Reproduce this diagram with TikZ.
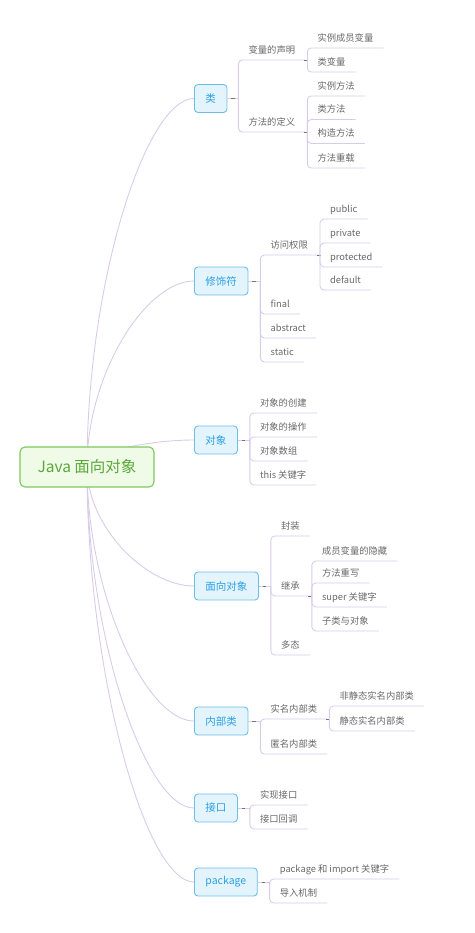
\documentclass[tikz,border=0pt]{standalone}
\usepackage{fontspec}
\setmainfont{Noto Sans CJK SC}
\usepackage{xcolor}
\usepackage{tikz}
\usetikzlibrary{calc, backgrounds}

\definecolor{linkc}{HTML}{D8CCEA}
\definecolor{leaftext}{HTML}{686868}
\definecolor{topfill}{HTML}{E4F4FD}
\definecolor{topdraw}{HTML}{6CBDE9}
\definecolor{toptext}{HTML}{2A9FE3}
\definecolor{rootfill}{HTML}{EFFBE7}
\definecolor{rootdraw}{HTML}{7DC95E}
\definecolor{roottext}{HTML}{5BA83C}

\begin{document}
\begin{tikzpicture}[
  x=1pt, y=-1pt,
  root/.style={
    rectangle, rounded corners=5pt, fill=rootfill, draw=rootdraw,
    line width=1.1pt, minimum width=134pt, minimum height=40pt,
    text=roottext, font=\fontsize{15.5}{18}\selectfont
  },
  topic/.style={
    rectangle, rounded corners=3.5pt, fill=topfill, draw=topdraw,
    line width=0.9pt, minimum height=28pt, inner xsep=11pt, anchor=west,
    text=toptext, font=\fontsize{10.5}{12}\selectfont
  },
  leaf/.style={
    anchor=south west, inner xsep=10pt, inner ysep=4.5pt,
    text height=7pt, text depth=2pt,
    text=leaftext, font=\fontsize{9.3}{11}\selectfont
  },
  link/.style={draw=linkc, line width=0.9pt},
  bracket/.style={link, rounded corners=4pt},
  foldmark/.style={draw=black!55, line width=0.8pt},
  curvy/.style={to path={
    .. controls ($(\tikztostart)!0.5!(\tikztostart |- \tikztotarget)$)
    and ($(\tikztostart |- \tikztotarget)!0.55!(\tikztotarget)$) .. (\tikztotarget)}},
]
\useasboundingbox (0,0) rectangle (474,933);
%% Root and main topics
\node[root] (root) at (87,467) {Java 面向对象};
\node[topic] (lei)  at (194,98.5) {类};
\node[topic] (xsf)  at (194,281)  {修饰符};
\node[topic] (dx)   at (194,440)  {对象};
\node[topic] (mxdx) at (194,586)  {面向对象};
\node[topic] (nbl)  at (194,721)  {内部类};
\node[topic] (jk)   at (194,808)  {接口};
\node[topic] (pkg)  at (194,882)  {package};
%% Curves from root
\begin{scope}[on background layer]
\draw[link] (root.center) to[curvy] (lei.west);  \draw[link] (root.center) to[curvy] (xsf.west);
\draw[link] (root.center) to[curvy] (dx.west);   \draw[link] (root.center) to[curvy] (mxdx.west);
\draw[link] (root.center) to[curvy] (nbl.west);  \draw[link] (root.center) to[curvy] (jk.west);
\draw[link] (root.center) to[curvy] (pkg.west);
\end{scope}

%% 类
\coordinate (jLei) at ([xshift=11pt]lei.east);
\node[leaf] (blsm) at (jLei |- 0,60)  {变量的声明};
\node[leaf] (ffdy) at (jLei |- 0,132) {方法的定义};
\draw[link] (lei.east) -- (jLei); \draw[foldmark] ([xshift=4pt]lei.east) -- ++(3.5,0);
\draw[bracket] (jLei) |- (blsm.south east); \draw[bracket] (jLei) |- (ffdy.south east);
\coordinate (jBlsm) at ([xshift=2pt]blsm.south east);
\node[leaf] (slcy) at (jBlsm |- 0,48) {实例成员变量};
\node[leaf] (lbl)  at (jBlsm |- 0,72) {类变量};
\draw[link] (blsm.south east) -- (jBlsm); \draw[foldmark] ([xshift=-1.5pt]blsm.south east) -- ++(4,0);
\draw[bracket] (jBlsm) |- (slcy.south east); \draw[bracket] (jBlsm) |- (lbl.south east);
\coordinate (jFfdy) at ([xshift=2pt]ffdy.south east);
\node[leaf] (slff) at (jFfdy |- 0,96)    {实例方法};
\node[leaf] (lff)  at (jFfdy |- 0,119.5) {类方法};
\node[leaf] (gzff) at (jFfdy |- 0,143.5) {构造方法};
\node[leaf] (ffcz) at (jFfdy |- 0,168)   {方法重载};
\draw[link] (ffdy.south east) -- (jFfdy); \draw[foldmark] ([xshift=-1.5pt]ffdy.south east) -- ++(4,0);
\draw[bracket] (jFfdy) |- (slff.south east); \draw[bracket] (jFfdy) |- (lff.south east);
\draw[bracket] (jFfdy) |- (gzff.south east); \draw[bracket] (jFfdy) |- (ffcz.south east);

%% 修饰符
\coordinate (jXsf) at ([xshift=12pt]xsf.east);
\node[leaf] (fwqx)      at (jXsf |- 0,255) {访问权限};
\node[leaf] (mfinal)    at (jXsf |- 0,314) {final};
\node[leaf] (mabstract) at (jXsf |- 0,338) {abstract};
\node[leaf] (mstatic)   at (jXsf |- 0,362) {static};
\draw[link] (xsf.east) -- (jXsf); \draw[foldmark] ([xshift=4pt]xsf.east) -- ++(3.5,0);
\draw[bracket] (jXsf) |- (fwqx.south east);      \draw[bracket] (jXsf) |- (mfinal.south east);
\draw[bracket] (jXsf) |- (mabstract.south east); \draw[bracket] (jXsf) |- (mstatic.south east);
\coordinate (jFwqx) at ([xshift=2pt]fwqx.south east);
\node[leaf] (apub) at (jFwqx |- 0,219) {public};
\node[leaf] (apri) at (jFwqx |- 0,243) {private};
\node[leaf] (apro) at (jFwqx |- 0,267) {protected};
\node[leaf] (adef) at (jFwqx |- 0,290) {default};
\draw[link] (fwqx.south east) -- (jFwqx); \draw[foldmark] ([xshift=-1.5pt]fwqx.south east) -- ++(4,0);
\draw[bracket] (jFwqx) |- (apub.south east); \draw[bracket] (jFwqx) |- (apri.south east);
\draw[bracket] (jFwqx) |- (apro.south east); \draw[bracket] (jFwqx) |- (adef.south east);

%% 对象
\coordinate (jDx) at ([xshift=12pt]dx.east);
\node[leaf] (dxcj)   at (jDx |- 0,413) {对象的创建};
\node[leaf] (dxcz)   at (jDx |- 0,437) {对象的操作};
\node[leaf] (dxsz)   at (jDx |- 0,461) {对象数组};
\node[leaf] (thiskw) at (jDx |- 0,485) {this 关键字};
\draw[link] (dx.east) -- (jDx); \draw[foldmark] ([xshift=4pt]dx.east) -- ++(3.5,0);
\draw[bracket] (jDx) |- (dxcj.south east); \draw[bracket] (jDx) |- (dxcz.south east);
\draw[bracket] (jDx) |- (dxsz.south east); \draw[bracket] (jDx) |- (thiskw.south east);

%% 面向对象
\coordinate (jMxdx) at ([xshift=12pt]mxdx.east);
\node[leaf] (fz) at (jMxdx |- 0,536) {封装};
\node[leaf] (jc) at (jMxdx |- 0,596) {继承};
\node[leaf] (dt) at (jMxdx |- 0,655) {多态};
\draw[link] (mxdx.east) -- (jMxdx); \draw[foldmark] ([xshift=4pt]mxdx.east) -- ++(3.5,0);
\draw[bracket] (jMxdx) |- (fz.south east); \draw[bracket] (jMxdx) |- (jc.south east);
\draw[bracket] (jMxdx) |- (dt.south east);
\coordinate (jJc) at ([xshift=2pt]jc.south east);
\node[leaf] (cybl)    at (jJc |- 0,561) {成员变量的隐藏};
\node[leaf] (ffcx)    at (jJc |- 0,583) {方法重写};
\node[leaf] (superkw) at (jJc |- 0,607) {super 关键字};
\node[leaf] (zlydx)   at (jJc |- 0,631) {子类与对象};
\draw[link] (jc.south east) -- (jJc); \draw[foldmark] ([xshift=-1.5pt]jc.south east) -- ++(4,0);
\draw[bracket] (jJc) |- (cybl.south east);    \draw[bracket] (jJc) |- (ffcx.south east);
\draw[bracket] (jJc) |- (superkw.south east); \draw[bracket] (jJc) |- (zlydx.south east);

%% 内部类
\coordinate (jNbl) at ([xshift=12pt]nbl.east);
\node[leaf] (smnbl) at (jNbl |- 0,719) {实名内部类};
\node[leaf] (nmnbl) at (jNbl |- 0,754) {匿名内部类};
\draw[link] (nbl.east) -- (jNbl); \draw[foldmark] ([xshift=4pt]nbl.east) -- ++(3.5,0);
\draw[bracket] (jNbl) |- (smnbl.south east); \draw[bracket] (jNbl) |- (nmnbl.south east);
\coordinate (jSm) at ([xshift=2pt]smnbl.south east);
\node[leaf] (fjtnbl) at (jSm |- 0,706) {非静态实名内部类};
\node[leaf] (jtnbl)  at (jSm |- 0,731) {静态实名内部类};
\draw[link] (smnbl.south east) -- (jSm); \draw[foldmark] ([xshift=-1.5pt]smnbl.south east) -- ++(4,0);
\draw[bracket] (jSm) |- (fjtnbl.south east); \draw[bracket] (jSm) |- (jtnbl.south east);

%% 接口
\coordinate (jJk) at ([xshift=12pt]jk.east);
\node[leaf] (sxjk) at (jJk |- 0,805) {实现接口};
\node[leaf] (jkhd) at (jJk |- 0,829) {接口回调};
\draw[link] (jk.east) -- (jJk); \draw[foldmark] ([xshift=4pt]jk.east) -- ++(3.5,0);
\draw[bracket] (jJk) |- (sxjk.south east); \draw[bracket] (jJk) |- (jkhd.south east);

%% package
\coordinate (jPkg) at ([xshift=12pt]pkg.east);
\node[leaf] (pkgimp) at (jPkg |- 0,879) {package 和 import 关键字};
\node[leaf] (drjz)   at (jPkg |- 0,903) {导入机制};
\draw[link] (pkg.east) -- (jPkg); \draw[foldmark] ([xshift=4pt]pkg.east) -- ++(3.5,0);
\draw[bracket] (jPkg) |- (pkgimp.south east); \draw[bracket] (jPkg) |- (drjz.south east);
\end{tikzpicture}
\end{document}
